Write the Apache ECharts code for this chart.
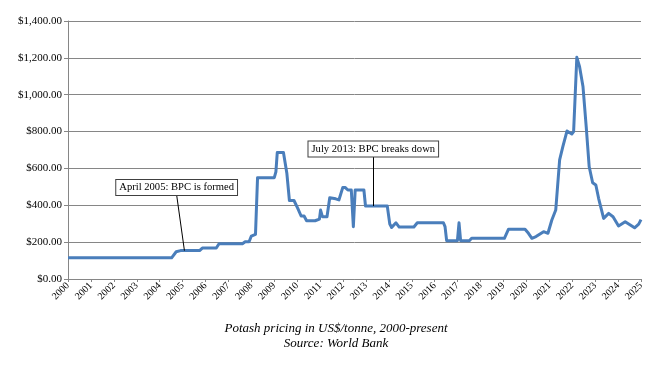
<!DOCTYPE html>
<html>
<head>
<meta charset="utf-8">
<script src="https://cdn.jsdelivr.net/npm/echarts@6/dist/echarts.min.js"></script>
<style>
  html, body { margin: 0; padding: 0; background: #fff; }
  #chart { width: 672px; height: 370px; }
</style>
</head>
<body>
<div id="chart"></div>
<script>
// ---- data ----
const years = [
  2000.00, 2004.52, 2004.72, 2004.91, 2005.74, 2005.86, 2006.47, 2006.59, 2007.61, 2007.73,
  2007.90, 2008.00, 2008.18, 2008.27, 2009.00, 2009.07, 2009.13, 2009.40, 2009.55, 2009.66,
  2009.86, 2010.02, 2010.17, 2010.30, 2010.41, 2010.78, 2010.85, 2010.97, 2011.02, 2011.10,
  2011.30, 2011.42, 2011.68, 2011.82, 2011.99, 2012.10, 2012.21, 2012.36, 2012.45, 2012.53,
  2012.91, 2012.98, 2013.93, 2014.04, 2014.12, 2014.31, 2014.45, 2015.09, 2015.24, 2016.38,
  2016.45, 2016.52, 2016.99, 2017.06, 2017.13, 2017.51, 2017.61, 2019.04, 2019.22, 2019.94,
  2020.09, 2020.24, 2020.42, 2020.75, 2020.94, 2021.11, 2021.28, 2021.45, 2021.59, 2021.77,
  2021.84, 2021.98, 2022.06, 2022.20, 2022.32, 2022.47, 2022.61, 2022.74, 2022.89, 2023.03,
  2023.15, 2023.37, 2023.59, 2023.78, 2024.02, 2024.31, 2024.72, 2024.90, 2025.00
];
const prices = [
  115, 115, 148, 154, 154, 168, 168, 191, 191, 202,
  202, 233, 242, 550, 550, 581, 686, 686, 572, 426,
  426, 385, 342, 342, 316, 316, 325, 325, 374, 338,
  338, 441, 435, 429, 497, 496, 483, 483, 284, 483,
  483, 396, 396, 298, 280, 305, 282, 282, 305, 305,
  284, 208, 208, 305, 208, 208, 221, 221, 270, 270,
  248, 221, 230, 257, 248, 320, 374, 646, 718, 803,
  808, 787, 800, 1203, 1152, 1043, 826, 609, 522, 510,
  438, 329, 356, 338, 288, 311, 278, 298, 322
];
const yTicks = [0, 200, 400, 600, 800, 1000, 1200, 1400];
const xTickYears = [2000, 2025];
const captionLines = ['Potash pricing in US$/tonne, 2000-present', 'Source: World Bank'];
const annotationTexts = ['April 2005: BPC is formed', 'July 2013: BPC breaks down'];

// annotation anchors (data space): [label year, label price, point year, point price]
const annotationAnchors = [
  [2004.74, 456, 2005.08, 154],
  [2013.32, 665, 2013.32, 396]
];

const serif = '"Liberation Serif", "Times New Roman", serif';
const chart = echarts.init(document.getElementById('chart'), null, { renderer: 'canvas' });

const seriesData = years.map((y, i) => [y, prices[i]]);

function money(v) {
  return '$' + Number(v).toLocaleString('en-US', { minimumFractionDigits: 2, maximumFractionDigits: 2 });
}

chart.setOption({
  animation: false,
  backgroundColor: '#ffffff',
  title: {
    text: captionLines.join('\n'),
    left: 'center',
    top: 321,
    padding: 0,
    textStyle: {
      fontFamily: serif,
      fontStyle: 'italic',
      fontWeight: 'normal',
      fontSize: 13,
      lineHeight: 15,
      color: '#000'
    }
  },
  grid: { left: 68, right: 31, top: 21, bottom: 91 },
  xAxis: {
    type: 'value',
    min: xTickYears[0],
    max: xTickYears[1],
    interval: 1,
    axisLine: { show: true, lineStyle: { color: '#868686', width: 1 } },
    axisTick: { show: true, length: 3, inside: false, lineStyle: { color: '#868686' } },
    splitLine: { show: false },
    axisLabel: {
      rotate: 45,
      margin: 5,
      fontFamily: serif,
      fontSize: 10,
      color: '#000',
      formatter: v => String(v)
    }
  },
  yAxis: {
    type: 'value',
    min: yTicks[0],
    max: yTicks[yTicks.length - 1],
    interval: yTicks[1] - yTicks[0],
    axisLine: { show: true, lineStyle: { color: '#868686', width: 1 } },
    axisTick: { show: true, length: 4, lineStyle: { color: '#868686' } },
    splitLine: { show: true, lineStyle: { color: '#868686', width: 1 } },
    axisLabel: {
      margin: 6,
      fontFamily: serif,
      fontSize: 11,
      color: '#000',
      formatter: v => money(v)
    }
  },
  series: [{
    type: 'line',
    data: seriesData,
    showSymbol: false,
    symbol: 'none',
    lineStyle: { color: '#4A7EBB', width: 3, join: 'round' },
    markLine: {
      silent: true,
      symbol: ['none', 'none'],
      label: { show: false },
      lineStyle: { color: '#000', width: 1, type: 'solid' },
      data: annotationAnchors.map(a => [{ coord: [a[0], a[1]] }, { coord: [a[2], a[3]] }])
    },
    z: 3
  }]
});

// annotation boxes centred at the top end of each leader line
const graphics = annotationTexts.map((t, i) => {
  const p = chart.convertToPixel({ gridIndex: 0 }, [annotationAnchors[i][0], annotationAnchors[i][1]]);
  return {
    type: 'text',
    z: 10,
    style: {
      text: t,
      fontFamily: serif,
      fontSize: 10.6,
      lineHeight: 11,
      fill: '#000',
      backgroundColor: '#fff',
      borderColor: '#404040',
      borderWidth: 1,
      padding: [2, 3, 2, 3],
      align: 'center',
      verticalAlign: 'bottom'
    },
    x: p[0],
    y: p[1]
  };
});
chart.setOption({ graphic: graphics });
</script>
</body>
</html>
